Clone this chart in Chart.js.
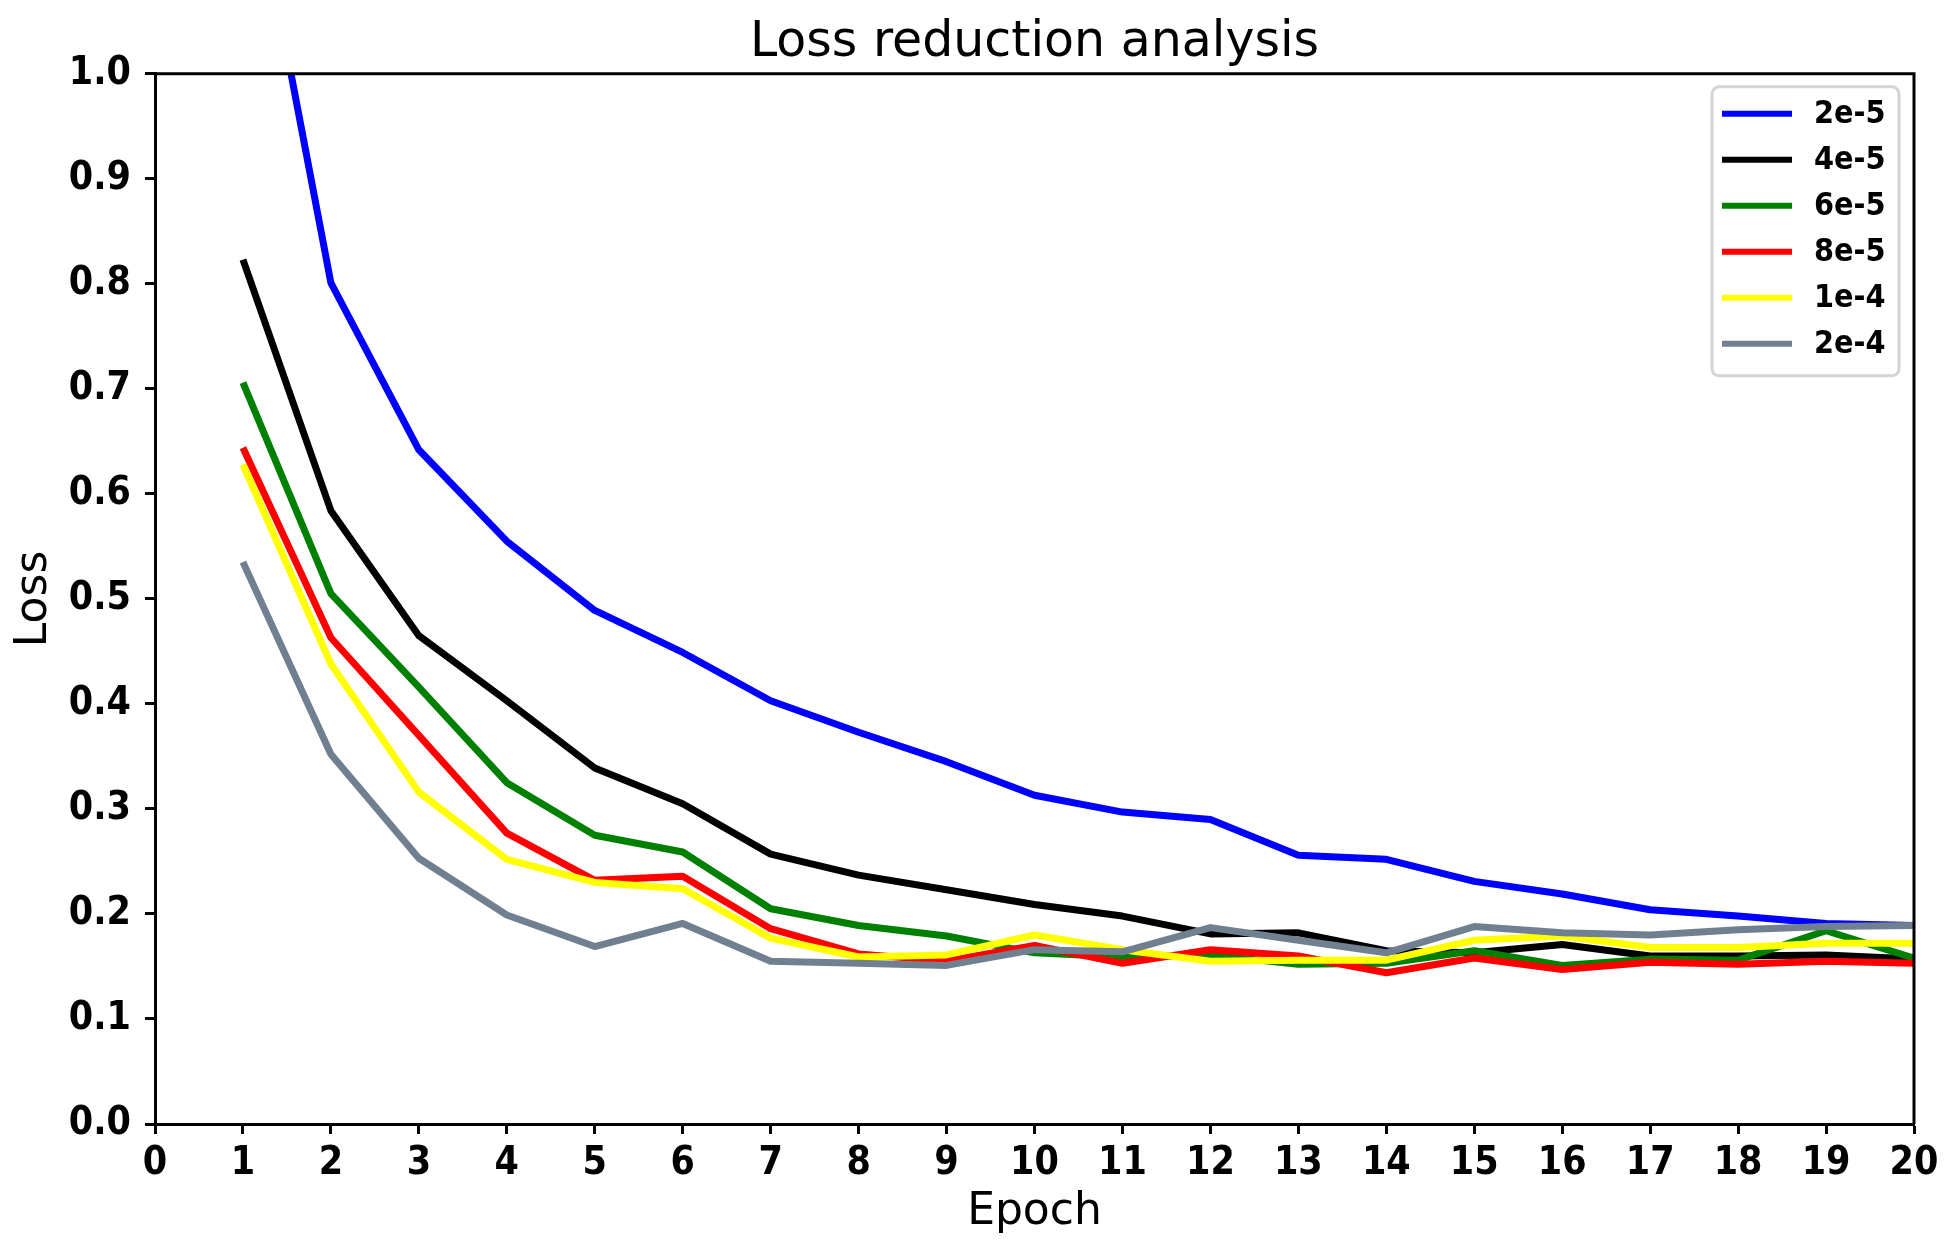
<!DOCTYPE html>
<html>
<head>
<meta charset="utf-8">
<script src="https://cdn.jsdelivr.net/npm/chart.js@4/dist/chart.umd.min.js"></script>
<style>
  html, body { margin: 0; padding: 0; background: #fff; }
  #wrap { width: 1959px; height: 1255px; }
</style>
</head>
<body>
<div id="wrap"><canvas id="chart" width="1959" height="1255"></canvas></div>
<script>
// epochs on the x axis
const epochs = [1, 2, 3, 4, 5, 6, 7, 8, 9, 10, 11, 12, 13, 14, 15, 16, 17, 18, 19, 20];

// loss per learning rate
const lr2e5 = [1.24, 0.801, 0.642, 0.555, 0.489, 0.449, 0.403, 0.373, 0.345, 0.313, 0.297, 0.290, 0.256, 0.252, 0.231, 0.219, 0.204, 0.198, 0.191, 0.189];
const lr4e5 = [0.823, 0.584, 0.465, 0.403, 0.339, 0.305, 0.257, 0.237, 0.223, 0.209, 0.198, 0.181, 0.182, 0.165, 0.163, 0.171, 0.160, 0.160, 0.161, 0.157];
const lr6e5 = [0.706, 0.505, 0.416, 0.325, 0.275, 0.259, 0.205, 0.189, 0.179, 0.163, 0.159, 0.161, 0.152, 0.153, 0.165, 0.151, 0.157, 0.156, 0.184, 0.158];
const lr8e5 = [0.644, 0.463, 0.370, 0.277, 0.232, 0.236, 0.186, 0.162, 0.155, 0.170, 0.153, 0.166, 0.160, 0.144, 0.158, 0.147, 0.154, 0.152, 0.155, 0.153];
const lr1e4 = [0.628, 0.438, 0.316, 0.252, 0.230, 0.224, 0.177, 0.159, 0.161, 0.180, 0.166, 0.155, 0.156, 0.156, 0.175, 0.179, 0.168, 0.168, 0.172, 0.172];
const lr2e4 = [0.535, 0.352, 0.253, 0.199, 0.169, 0.191, 0.155, 0.153, 0.151, 0.166, 0.164, 0.187, 0.175, 0.163, 0.188, 0.182, 0.180, 0.185, 0.188, 0.189];

const seriesLabels = ["2e-5", "4e-5", "6e-5", "8e-5", "1e-4", "2e-4"];
const seriesValues = [lr2e5, lr4e5, lr6e5, lr8e5, lr1e4, lr2e4];
const seriesColors = ["#0000ff", "#000000", "#008000", "#ff0000", "#ffff00", "#708090"];

const tickFont = "'DejaVu Sans Condensed', 'DejaVu Sans', sans-serif";
const textFont = "'DejaVu Sans', sans-serif";

// top and right spines (matplotlib style box)
const frame = {
    id: "frame",
    afterDatasetsDraw(chart) {
        const { ctx, chartArea: a } = chart;
        ctx.save();
        ctx.strokeStyle = "#000";
        ctx.lineWidth = 3;
        ctx.beginPath();
        ctx.moveTo(a.left, a.top);
        ctx.lineTo(a.right, a.top);
        ctx.lineTo(a.right, a.bottom);
        ctx.stroke();
        ctx.restore();
    }
};

// legend box drawn inside the upper right of the plot
const innerLegend = {
    id: "innerLegend",
    afterDraw(chart) {
        const { ctx, chartArea: a } = chart;
        const sets = chart.data.datasets;
        const boxW = 187, rowH = 46;
        const boxH = 289;
        const x0 = a.right - 15 - boxW, y0 = a.top + 13;
        ctx.save();
        ctx.fillStyle = "rgba(255,255,255,0.8)";
        ctx.strokeStyle = "#d4d4d4";
        ctx.lineWidth = 3;
        ctx.beginPath();
        ctx.roundRect(x0, y0, boxW, boxH, 7);
        ctx.fill();
        ctx.stroke();
        ctx.font = "bold 32px " + tickFont;
        ctx.textBaseline = "middle";
        ctx.textAlign = "left";
        sets.forEach((ds, i) => {
            const y = y0 + 27 + i * rowH;
            ctx.strokeStyle = ds.borderColor;
            ctx.lineWidth = 6;
            ctx.beginPath();
            ctx.moveTo(x0 + 10, y);
            ctx.lineTo(x0 + 80, y);
            ctx.stroke();
            ctx.fillStyle = "#000";
            ctx.fillText(ds.label, x0 + 102, y + 1);
        });
        ctx.restore();
    }
};

const datasets = seriesLabels.map((label, i) => ({
    label: label,
    data: epochs.map((e, j) => ({ x: e, y: seriesValues[i][j] })),
    borderColor: seriesColors[i],
    backgroundColor: seriesColors[i],
    borderWidth: 7,
    borderJoinStyle: "round",
    pointRadius: 0,
    tension: 0,
    clip: 0,
    order: seriesLabels.length - i
}));

new Chart(document.getElementById("chart").getContext("2d"), {
    type: "line",
    data: { datasets: datasets },
    options: {
        responsive: false,
        animation: false,
        layout: { padding: { left: 0, right: 45, top: 0, bottom: 0 } },
        plugins: {
            legend: { display: false },
            tooltip: { enabled: false },
            title: {
                display: true,
                text: "Loss reduction analysis",
                fullSize: false,
                color: "#000",
                font: { family: textFont, size: 49, weight: "normal", lineHeight: 1.2 },
                padding: { top: 14, bottom: 1 }
            }
        },
        scales: {
            x: {
                type: "linear",
                min: 0,
                max: 20,
                afterFit: (s) => { s.height = 131; },
                ticks: {
                    stepSize: 1,
                    color: "#000",
                    padding: 6,
                    maxRotation: 0,
                    font: { family: tickFont, size: 39, weight: "bold" }
                },
                grid: { drawOnChartArea: false, drawTicks: true, tickLength: 10, tickWidth: 3, tickColor: "#000" },
                border: { display: true, color: "#000", width: 3 },
                title: {
                    display: true,
                    text: "Epoch",
                    color: "#000",
                    font: { family: textFont, size: 44, lineHeight: 1.2 },
                    padding: { top: 0, bottom: 16 }
                }
            },
            y: {
                min: 0,
                max: 1,
                afterFit: (s) => { s.width = 155; },
                ticks: {
                    stepSize: 0.1,
                    color: "#000",
                    padding: 14,
                    callback: (v) => v.toFixed(1),
                    font: { family: tickFont, size: 39, weight: "bold" }
                },
                grid: { drawOnChartArea: false, drawTicks: true, tickLength: 10, tickWidth: 3, tickColor: "#000" },
                border: { display: true, color: "#000", width: 3 },
                title: {
                    display: true,
                    text: "Loss",
                    color: "#000",
                    font: { family: textFont, size: 44, lineHeight: 1.2 },
                    padding: { top: 8, bottom: 0 }
                }
            }
        }
    },
    plugins: [frame, innerLegend]
});
</script>
</body>
</html>
